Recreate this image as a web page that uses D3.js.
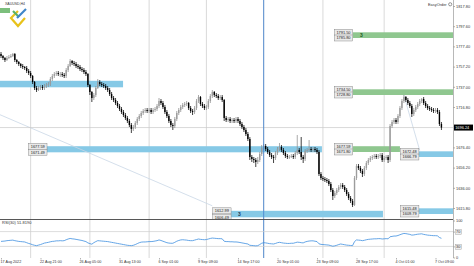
<!DOCTYPE html>
<html><head><meta charset="utf-8">
<script src="https://cdn.jsdelivr.net/npm/d3@7"></script>
<style>
html,body{margin:0;padding:0;background:#fff;overflow:hidden}
svg{display:block;font-family:"Liberation Sans",Arial,sans-serif}
</style></head><body>
<svg id="c" width="474" height="266"></svg>
<script>
// ---------------- data (XAUUSD, H4) ----------------
const firstOpen = 1769.8;
const closes = [
1767.8,1765.8,1763.8,1765.8,1766.8,1767.8,1769.8,1763.8,1761.8,1759.8,
1757.8,1756.8,1755.8,1752.8,1750.8,1747.8,1741.8,1735.8,1733.8,1735.8,
1736.8,1735.8,1737.8,1738.8,1739.8,1744.8,1747.8,1749.8,1750.8,1749.8,
1749.8,1748.8,1747.8,1753.8,1757.8,1762.8,1760.8,1759.8,1757.8,1756.8,
1754.8,1753.8,1751.8,1749.8,1738.8,1731.8,1725.8,1728.8,1735.8,1741.8,
1739.8,1738.8,1737.8,1735.8,1733.8,1729.8,1725.8,1723.8,1720.8,1717.8,
1714.8,1711.8,1708.8,1705.8,1702.8,1698.8,1694.8,1696.8,1700.8,1704.8,
1707.8,1710.8,1712.8,1713.8,1712.8,1713.8,1711.8,1713.8,1714.8,1717.8,
1722.8,1720.8,1716.8,1711.8,1707.8,1702.8,1698.8,1697.8,1704.8,1710.8,
1713.8,1716.8,1718.8,1719.8,1720.8,1715.8,1712.8,1711.8,1715.8,1722.8,
1726.8,1719.8,1717.8,1715.8,1716.8,1722.8,1727.8,1731.8,1728.8,1727.8,
1725.8,1726.8,1723.8,1705.8,1703.8,1704.8,1702.8,1703.8,1702.8,1704.8,
1702.8,1699.8,1696.8,1693.8,1689.8,1684.8,1666.8,1664.8,1663.8,1661.8,
1663.8,1669.8,1675.8,1677.8,1674.8,1671.8,1668.8,1666.8,1665.8,1670.8,
1674.8,1676.8,1673.8,1670.8,1667.8,1666.8,1666.8,1667.8,1666.8,1670.8,
1673.8,1671.8,1666.8,1664.8,1672.8,1673.8,1674.8,1673.8,1674.8,1673.8,
1671.8,1649.8,1645.8,1644.8,1643.8,1642.8,1639.8,1633.8,1627.8,1630.8,
1633.8,1636.8,1638.8,1636.8,1633.8,1629.8,1625.8,1622.8,1618.8,1645.8,
1657.8,1655.8,1652.8,1649.8,1655.8,1660.8,1663.8,1665.8,1666.8,1667.8,
1666.8,1667.8,1668.8,1663.8,1665.8,1666.8,1663.8,1697.8,1701.8,1703.8,
1701.8,1707.8,1715.8,1722.8,1726.8,1723.8,1720.8,1717.8,1709.8,1713.8,
1716.8,1719.8,1722.8,1724.8,1720.8,1717.8,1715.8,1714.8,1713.8,1712.8,
1713.8,1711.8,1699.8,1696.24];
const highs = [
1771.8,1768.8,1766.8,1767.8,1768.8,1769.8,1770.8,1770.8,1764.8,1762.8,
1760.8,1759.8,1757.8,1757.8,1754.8,1752.8,1748.8,1742.8,1737.8,1737.8,
1738.8,1738.8,1739.8,1740.8,1741.8,1746.8,1749.8,1751.8,1752.8,1752.8,
1751.8,1751.8,1750.8,1755.8,1759.8,1764.8,1763.8,1762.8,1761.8,1759.8,
1758.8,1756.8,1755.8,1753.8,1750.8,1739.8,1732.8,1730.8,1737.8,1744.8,
1743.8,1741.8,1740.8,1739.8,1737.8,1735.8,1731.8,1727.8,1725.8,1722.8,
1719.8,1716.8,1713.8,1710.8,1707.8,1704.8,1700.8,1698.8,1702.8,1706.8,
1709.8,1712.8,1714.8,1715.8,1715.8,1715.8,1715.8,1715.8,1716.8,1719.8,
1725.8,1724.8,1722.8,1718.8,1713.8,1709.8,1704.8,1700.8,1706.8,1712.8,
1715.8,1718.8,1720.8,1721.8,1722.8,1721.8,1717.8,1714.8,1717.8,1724.8,
1728.8,1727.8,1721.8,1719.8,1718.8,1724.8,1729.8,1733.8,1732.8,1730.8,
1729.8,1728.8,1728.8,1724.8,1707.8,1706.8,1706.8,1705.8,1705.8,1706.8,
1706.8,1704.8,1701.8,1698.8,1695.8,1691.8,1686.8,1668.8,1666.8,1665.8,
1666.8,1671.8,1678.8,1679.8,1679.8,1676.8,1673.8,1670.8,1668.8,1672.8,
1676.8,1680.8,1678.8,1675.8,1672.8,1669.8,1668.8,1669.8,1669.8,1672.8,
1688.8,1675.8,1686.8,1668.8,1674.8,1675.8,1683.8,1676.8,1676.8,1676.8,
1675.8,1673.8,1651.8,1647.8,1646.8,1645.8,1644.8,1641.8,1635.8,1632.8,
1635.8,1638.8,1640.8,1640.8,1638.8,1635.8,1631.8,1627.8,1624.8,1647.8,
1659.8,1659.8,1657.8,1654.8,1657.8,1662.8,1665.8,1667.8,1668.8,1669.8,
1669.8,1669.8,1670.8,1670.8,1667.8,1668.8,1668.8,1699.8,1703.8,1705.8,
1705.8,1709.8,1717.8,1724.8,1728.8,1727.8,1725.8,1722.8,1719.8,1715.8,
1718.8,1721.8,1724.8,1725.8,1726.8,1722.8,1719.8,1717.8,1716.8,1715.8,
1715.8,1715.8,1713.8,1701.8];
const lows = [
1765.8,1763.8,1761.8,1762.8,1764.8,1765.8,1766.8,1761.8,1759.8,1757.8,
1755.8,1754.8,1753.8,1750.8,1748.8,1745.8,1739.8,1733.8,1731.8,1732.8,
1733.8,1733.8,1733.8,1735.8,1736.8,1737.8,1742.8,1745.8,1747.8,1747.8,
1746.8,1746.8,1745.8,1745.8,1751.8,1756.8,1758.8,1757.8,1755.8,1754.8,
1752.8,1751.8,1749.8,1747.8,1736.8,1728.8,1721.8,1723.8,1726.8,1734.8,
1737.8,1736.8,1735.8,1733.8,1731.8,1727.8,1723.8,1721.8,1718.8,1715.8,
1712.8,1709.8,1706.8,1703.8,1700.8,1696.8,1690.8,1692.8,1694.8,1698.8,
1702.8,1705.8,1708.8,1710.8,1710.8,1710.8,1709.8,1709.8,1711.8,1712.8,
1715.8,1718.8,1714.8,1709.8,1705.8,1700.8,1696.8,1693.8,1695.8,1702.8,
1708.8,1711.8,1714.8,1716.8,1717.8,1713.8,1710.8,1708.8,1709.8,1713.8,
1720.8,1717.8,1715.8,1713.8,1713.8,1714.8,1720.8,1725.8,1726.8,1725.8,
1723.8,1723.8,1721.8,1702.8,1701.8,1701.8,1700.8,1700.8,1700.8,1700.8,
1700.8,1697.8,1694.8,1691.8,1687.8,1682.8,1663.8,1661.8,1660.8,1656.8,
1659.8,1661.8,1667.8,1673.8,1672.8,1669.8,1666.8,1664.8,1660.8,1663.8,
1668.8,1672.8,1671.8,1668.8,1665.8,1664.8,1664.8,1665.8,1664.8,1664.8,
1668.8,1669.8,1663.8,1660.8,1662.8,1670.8,1671.8,1671.8,1671.8,1671.8,
1669.8,1647.8,1643.8,1642.8,1641.8,1640.8,1637.8,1631.8,1623.8,1625.8,
1628.8,1631.8,1634.8,1634.8,1631.8,1627.8,1623.8,1620.8,1616.8,1617.8,
1643.8,1653.8,1650.8,1646.8,1647.8,1653.8,1658.8,1661.8,1663.8,1664.8,
1664.8,1664.8,1665.8,1661.8,1661.8,1663.8,1660.8,1661.8,1695.8,1699.8,
1699.8,1699.8,1705.8,1713.8,1720.8,1721.8,1718.8,1715.8,1706.8,1707.8,
1711.8,1714.8,1717.8,1720.8,1718.8,1715.8,1713.8,1712.8,1711.8,1710.8,
1710.8,1709.8,1697.8,1693.8];
const rsi30 = [
43.5,44,44.5,45.5,46,46.5,47,45.5,44.5,43.5,
43,42.5,42,40,38,36.5,34.5,33,32,33.5,
35,37,39,40,41,42.5,43.5,44,45,45,
45.5,45,45.5,48,50,51.5,50.5,50,49,48,
47,46,44.5,43,39.5,37.5,36,40,43,45.5,
45,44.5,44,43.5,43,42,41,40,39,38,
37,36,35,34,33,32.5,32,33,35,37.5,
40,41.5,42,42,42.5,43,43,43.5,44.5,45.5,
47.5,46,44,42,40,39,38.5,38.5,41,44,
46,47.5,48,47.5,47,46,45.5,45.5,47,48.5,
50,49,48.5,48,48.5,50,51.5,52.5,52,51.5,
51,51,50.5,44,43,43,42.5,42.5,42,42,
41.5,40.5,39.5,38.5,37.5,36.5,33,32.5,32,31.5,
32,35,38.5,40,39.5,38.5,37.5,37,36.5,38,
40,41,40,39,38.5,38,38,38.5,38.5,40,
41.5,41,40,39.5,42,43.5,44.5,45,45,44,
43,37,35.5,35,34.5,34,33.5,32,30.5,31.5,
33,35,36.5,35.5,34.5,33.5,33,32.5,32,43,
47.5,47,46.5,45.5,46.5,48,49,49.5,50,50.5,
50.5,51,51,50,50.5,51,50.5,56,57,58,
58,59.5,61.5,63.5,65,64.5,63.5,62.5,60.5,61,
62,63,63.5,64,62.5,61.5,60.5,60,59.5,59,
59,58.5,54,51.819];
const timeLabels = ["17 Aug 2022","22 Aug 21:00","26 Aug 05:00","31 Aug 13:00","6 Sep 01:00","9 Sep 09:00",
  "14 Sep 17:00","20 Sep 01:00","23 Sep 09:00","28 Sep 17:00","4 Oct 01:00","7 Oct 09:00"];
const timeLabelBars = [0,20,40,60,80,100,120,140,160,180,200,220];
const priceTicks = [1817.80,1797.60,1777.40,1757.20,1737.00,1716.80,1676.40,1656.20,1636.00,1615.80];
const weekSeparatorBars = [15,45,75,104,133,163,194];
const verticalLineBar = 133;
const bidPrice = 1696.24;
const rsiLevels = [70,30];
// EasyOrder zones
const zoneTop    = [1743.0, 1677.59, 1791.50, 1734.50, 1677.59, 1672.48, 1612.99, 1615.48];
const zoneBottom = [1736.5, 1671.49, 1785.80, 1728.80, 1671.80, 1666.79, 1606.49, 1609.79];
const zoneStart  = [-5, 23.3, 178.1, 178.1, 178.1, 211.6, 116.5, 211.6];
const zoneEnd    = [61.8, 162.5, 240, 240, 202, 240, 193.4, 240];
const zoneKind   = ["sell","sell","buy","buy","buy","sell","sell","sell"];
const zoneLabels = [false,true,true,true,true,true,true,true];
const zoneMarkers = [{zone:2, bar:181.8, text:"3"},{zone:6, bar:120, text:"3"}];
// light trend lines: [bar1, price1, bar2, price2]
const trendLines = [[-1,1709.5,107,1618.0],[204,1728.5,212,1673.5]];

// ---------------- drawing ----------------
const svg = d3.select("#c");
const plotR = 453, mainB = 219, paneB = 258;
const n = closes.length;
const x = d3.scaleLinear().domain([0, n-1]).range([1, 1 + 1.975*(n-1)]);
const y = d3.scaleLinear().domain([1604.8, 1823.8]).range([mainB, 0]);
const ry = d3.scaleLinear().domain([0, 100]).range([257.5, 220.5]);

const bars = closes.map((c,i)=>({i, o: i===0 ? firstOpen : closes[i-1], c, h: highs[i], l: lows[i]}));

svg.append("defs").append("clipPath").attr("id","mainclip")
  .append("rect").attr("x",0).attr("y",0).attr("width",plotR).attr("height",mainB);
svg.select("defs").append("clipPath").attr("id","rsiclip")
  .append("rect").attr("x",0).attr("y",mainB).attr("width",plotR).attr("height",paneB-mainB);

// week separators
svg.append("g").selectAll("line").data(weekSeparatorBars).join("line")
  .attr("x1",d=>x(d)).attr("x2",d=>x(d)).attr("y1",0).attr("y2",paneB)
  .attr("stroke","#cfcfcf").attr("stroke-width",0.8);

const main = svg.append("g").attr("clip-path","url(#mainclip)");

// zones
const zoneIdx = d3.range(zoneTop.length);
main.append("g").selectAll("rect").data(zoneIdx).join("rect")
  .attr("x",d=>x(zoneStart[d])).attr("width",d=>x(zoneEnd[d])-x(zoneStart[d]))
  .attr("y",d=>y(zoneTop[d])).attr("height",d=>y(zoneBottom[d])-y(zoneTop[d]))
  .attr("fill",d=>zoneKind[d]==="buy" ? "#8fc78f" : "#86c9e6");

// trend lines
main.append("g").selectAll("line").data(trendLines).join("line")
  .attr("x1",d=>x(d[0])).attr("y1",d=>y(d[1])).attr("x2",d=>x(d[2])).attr("y2",d=>y(d[3]))
  .attr("stroke","#c9d7e6").attr("stroke-width",0.8);

// bid line
main.append("line").attr("x1",0).attr("x2",plotR).attr("y1",y(bidPrice)).attr("y2",y(bidPrice))
  .attr("stroke","#c8c8c8").attr("stroke-width",0.7);

// candles
const cg = main.append("g");
cg.selectAll("line").data(bars).join("line")
  .attr("x1",d=>x(d.i)).attr("x2",d=>x(d.i)).attr("y1",d=>y(d.h)).attr("y2",d=>y(d.l))
  .attr("stroke",d=>d.c>=d.o ? "#8c8c8c" : "#000").attr("stroke-width",0.75);
cg.selectAll("rect").data(bars).join("rect")
  .attr("x",d=>x(d.i)-0.7).attr("width",1.4)
  .attr("y",d=>y(Math.max(d.o,d.c))).attr("height",d=>Math.max(0.6, Math.abs(y(d.o)-y(d.c))))
  .attr("fill",d=>d.c>=d.o ? "#9c9c9c" : "#000");

// zone labels
const lab = main.append("g");
zoneIdx.filter(d=>zoneLabels[d]).forEach(d=>{
  [zoneTop[d], zoneBottom[d]].forEach(p=>{
    const xr = x(zoneStart[d]), yy = y(p);
    lab.append("rect").attr("x",xr-18.5).attr("y",yy-3).attr("width",18.5).attr("height",6)
      .attr("fill","#e9e9e9").attr("stroke","#777").attr("stroke-width",0.4);
    lab.append("text").attr("x",xr-9.25).attr("y",yy+1.4).attr("text-anchor","middle")
      .attr("font-size",3.9).attr("fill","#222").text(d3.format(".2f")(p));
  });
});
zoneMarkers.forEach(m=>{
  const mid = (zoneTop[m.zone]+zoneBottom[m.zone])/2;
  lab.append("text").attr("x",x(m.bar)).attr("y",y(mid)+1.8).attr("font-size",5).attr("font-weight","bold")
    .attr("fill", zoneKind[m.zone]==="buy" ? "#1d5a1d" : "#1a3550").text(m.text);
});

// vertical marker line
svg.append("line").attr("x1",x(verticalLineBar)).attr("x2",x(verticalLineBar)).attr("y1",0).attr("y2",paneB)
  .attr("stroke","#4a86d0").attr("stroke-width",0.9);

// pane separator
svg.append("line").attr("x1",0).attr("x2",plotR).attr("y1",mainB+0.5).attr("y2",mainB+0.5)
  .attr("stroke","#444").attr("stroke-width",0.9);
// price axis border
svg.append("line").attr("x1",plotR+0.5).attr("x2",plotR+0.5).attr("y1",0).attr("y2",paneB)
  .attr("stroke","#9a9a9a").attr("stroke-width",0.7);

// price axis
const pa = svg.append("g").attr("transform",`translate(${plotR+0.5},0)`)
  .call(d3.axisRight(y).tickValues(priceTicks).tickFormat(d3.format(".2f")).tickSize(1.5).tickPadding(1));
pa.select(".domain").remove();
pa.selectAll("line").attr("stroke","#666").attr("stroke-width",0.5);
pa.selectAll("text").attr("font-size",3.9).attr("fill","#333").attr("font-family","Liberation Sans, Arial");
// current price
svg.append("rect").attr("x",plotR+1).attr("y",y(bidPrice)-3).attr("width",19).attr("height",6).attr("fill","#000");
svg.append("text").attr("x",plotR+2.2).attr("y",y(bidPrice)+1.4).attr("font-size",3.9).attr("fill","#fff")
  .text(d3.format(".2f")(bidPrice));

// RSI pane
const rsiG = svg.append("g").attr("clip-path","url(#rsiclip)");
rsiG.selectAll("line.lvl").data(rsiLevels).join("line").attr("class","lvl")
  .attr("x1",0).attr("x2",plotR).attr("y1",d=>ry(d)).attr("y2",d=>ry(d))
  .attr("stroke","#cfcfcf").attr("stroke-width",0.7);
rsiG.append("path").datum(rsi30)
  .attr("d", d3.line().x((d,i)=>x(i)).y(d=>ry(d)))
  .attr("fill","none").attr("stroke","#3f8fe0").attr("stroke-width",0.8);
svg.append("text").attr("x",2).attr("y",224.3).attr("font-size",4).attr("fill","#333")
  .text("RSI(30) " + d3.format(".4f")(rsi30[n-1]));
// RSI axis
const ra = svg.append("g").attr("transform",`translate(${plotR+0.5},0)`)
  .call(d3.axisRight(ry).tickValues([100,70,30,0]).tickSize(1.5).tickPadding(1));
ra.select(".domain").remove();
ra.selectAll("line").attr("stroke","#666").attr("stroke-width",0.5);
ra.selectAll("text").attr("font-size",3.9).attr("fill","#333").attr("font-family","Liberation Sans, Arial");
ra.selectAll(".tick").filter(d=>d===70||d===30).insert("rect","text")
  .attr("x",2).attr("y",-2.6).attr("width",6).attr("height",5.2)
  .attr("fill","#eee").attr("stroke","#999").attr("stroke-width",0.4);

// time axis
const ta = svg.append("g").attr("transform",`translate(0,${paneB})`)
  .call(d3.axisBottom(x).tickValues(timeLabelBars).tickFormat((d,k)=>timeLabels[k]).tickSize(1.5).tickPadding(1));
ta.select(".domain").remove();
ta.selectAll("line").attr("stroke","#666").attr("stroke-width",0.5);
ta.selectAll("text").attr("font-size",3.7).attr("fill","#333").attr("text-anchor","start")
  .attr("dx",-1).attr("font-family","Liberation Sans, Arial");

// header texts
svg.append("text").attr("x",5).attr("y",4.6).attr("font-size",3.5).attr("fill","#333").text("XAUUSD,H4");
svg.append("text").attr("x",428).attr("y",5.6).attr("font-size",3.9).attr("fill","#333").text("EasyOrder");
svg.append("circle").attr("cx",450.2).attr("cy",4.3).attr("r",1.6).attr("fill","none").attr("stroke","#555").attr("stroke-width",0.6);

// logo
const lg = svg.append("g");
lg.append("rect").attr("x",0).attr("y",8).attr("width",10).attr("height",5).attr("fill","#7cbf7c");
lg.append("path").attr("d","M18,11 L11,18 L18,26 L25,18").attr("fill","none").attr("stroke","#e8c21a").attr("stroke-width",2.2);
lg.append("path").attr("d","M13,11 L19,17").attr("fill","none").attr("stroke","#5ab06a").attr("stroke-width",2.2);
lg.append("path").attr("d","M17,18 L26,9").attr("fill","none").attr("stroke","#3f86c8").attr("stroke-width",2.2);
</script></body></html>
